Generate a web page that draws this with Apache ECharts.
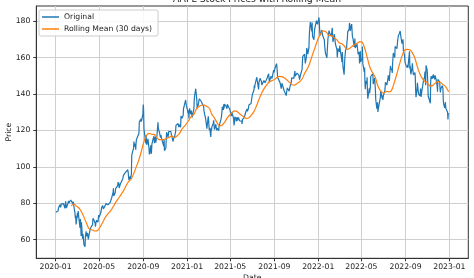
<!DOCTYPE html>
<html>
<head>
<meta charset="utf-8">
<script src="https://cdn.jsdelivr.net/npm/echarts@6/dist/echarts.min.js"></script>
<style>html,body{margin:0;padding:0;background:#fff;}#c{width:474px;height:278px;}</style>
</head>
<body>
<div id="c"></div>
<script>
// Market holidays (x positions of trading days only)
const holidays = ['2020-01-01','2020-01-20','2020-02-17','2020-04-10','2020-05-25','2020-07-03','2020-09-07','2020-11-26','2020-12-25',
  '2021-01-01','2021-01-18','2021-02-15','2021-04-02','2021-05-31','2021-07-05','2021-09-06','2021-11-25','2021-12-24',
  '2022-01-17','2022-02-21','2022-04-15','2022-05-30','2022-06-20','2022-07-04','2022-09-05','2022-11-24','2022-12-26'];

// Daily close, one row per month
const close2020 = [
 [75.1,74.4,75.0,74.6,75.8,77.4,77.6,79.2,78.2,77.8,78.8,79.7,79.1,79.4,79.8,79.6,77.2,79.4,81.1,81.0,77.4],
 [77.2,79.7,80.4,81.3,80.0,80.4,79.9,81.8,81.2,81.2,79.8,80.9,80.1,78.3,74.5,72.0,73.2,68.4,68.3],
 [74.7,72.3,75.7,73.2,72.3,66.5,71.3,68.9,62.1,69.5,60.6,63.2,61.7,61.2,57.3,56.1,61.7,61.4,64.6,61.9,63.7,63.6],
 [60.2,61.2,60.4,65.6,64.9,66.5,67.0,68.3,71.8,71.1,71.7,70.7,69.2,67.1,69.0,68.8,70.7,70.8,69.6,71.9,73.5],
 [72.3,73.3,74.4,75.2,75.9,77.5,78.8,77.9,76.9,77.4,76.9,78.7,78.3,79.8,79.2,79.7,79.2,79.5,79.6,79.5],
 [80.5,80.8,81.3,80.6,82.9,83.4,86.0,88.2,84.0,84.7,85.8,88.0,87.9,87.9,87.4,89.7,91.6,90.0,91.2,88.4,90.4,91.2],
 [91.0,91.0,93.5,93.2,95.3,95.8,95.9,95.5,97.1,97.7,96.5,96.3,98.4,97.0,97.3,92.8,92.6,94.8,93.3,95.0,96.2,106.3],
 [108.9,109.7,110.1,113.9,111.1,112.7,109.4,113.0,115.0,114.9,114.6,115.6,115.7,118.3,124.4,125.9,124.8,126.5,125.0,124.8,129.0],
 [134.2,131.4,120.9,121.0,112.8,117.3,113.5,112.0,115.4,115.5,112.1,110.3,106.8,110.1,111.8,107.1,108.2,112.3,115.0,114.1,115.8],
 [116.8,113.0,116.5,113.2,115.1,115.0,117.0,124.4,121.1,121.2,120.7,119.0,116.0,117.5,116.9,115.8,115.0,115.1,116.6,111.2,115.3,108.9],
 [108.8,110.4,115.0,119.0,118.7,116.3,116.0,119.5,119.2,119.3,120.3,119.4,118.0,118.6,117.3,113.9,115.2,116.0,116.6,119.1],
 [122.7,123.1,122.9,122.3,123.8,124.4,121.8,123.2,122.4,121.8,127.9,127.8,128.7,126.7,128.2,131.9,131.0,132.0,136.7,134.9,133.7,132.7]
];
const close2021 = [
 [129.4,131.0,126.6,130.9,132.1,129.0,128.8,130.9,128.9,127.1,127.8,132.0,136.9,139.1,142.9,143.2,142.1,137.1,132.0],
 [134.1,135.0,133.9,137.4,136.8,136.9,136.0,135.4,135.1,135.4,133.2,130.8,129.7,129.9,126.0,125.9,125.4,121.0,121.3],
 [127.8,125.1,122.1,120.1,121.4,116.4,121.1,120.0,122.0,121.0,124.0,125.6,124.8,120.5,120.0,123.4,122.5,120.1,120.6,121.2,121.4,119.9,122.2],
 [123.0,125.9,126.2,127.9,130.4,133.0,131.2,134.4,132.0,134.5,134.2,134.8,133.1,133.5,131.9,134.3,134.7,134.4,133.6,133.5,131.5],
 [132.5,127.9,128.1,129.7,130.2,126.9,125.9,122.8,125.0,127.5,126.3,124.9,124.7,127.3,125.4,127.1,126.9,126.9,125.3,124.6],
 [124.3,125.1,123.5,125.9,125.9,126.7,127.1,126.1,127.4,130.5,129.6,130.2,131.8,130.5,132.3,134.0,133.7,133.4,133.1,134.8,136.3,137.0],
 [137.3,140.0,142.0,144.6,143.2,145.1,144.5,145.6,149.2,148.5,146.4,142.5,146.2,145.4,146.8,148.6,149.0,146.8,145.0,145.6,145.9],
 [145.5,147.4,147.0,147.1,146.1,146.1,145.6,145.9,148.9,149.1,151.1,150.2,146.4,146.7,148.2,149.7,149.6,148.4,147.5,148.6,153.1,151.8],
 [152.5,153.7,154.3,156.7,155.1,154.1,149.0,149.6,148.1,149.0,148.8,146.1,142.9,143.4,145.9,146.8,146.9,145.4,141.9,142.8,141.5],
 [142.7,139.1,141.1,142.0,143.3,142.9,142.8,141.5,140.9,143.8,144.8,146.6,148.8,149.3,149.5,148.7,148.6,149.3,148.9,152.6,149.8],
 [149.0,150.0,151.5,151.0,151.3,150.4,150.8,147.9,147.9,150.0,150.0,151.0,153.5,157.9,160.6,161.0,161.4,161.9,156.8,160.2,165.3],
 [164.8,163.8,161.8,165.3,171.2,175.1,174.6,179.5,175.7,174.3,179.3,172.3,171.1,169.8,173.0,175.6,176.3,180.3,179.3,179.4,178.2,177.6]
];
const close2022 = [
 [182.0,179.7,174.9,172.0,172.2,172.2,175.1,175.5,172.2,173.1,169.8,166.2,164.5,162.4,161.6,159.8,159.7,159.2,170.3,174.8],
 [174.6,175.8,172.9,172.4,171.7,174.8,176.3,172.1,168.6,168.9,172.8,172.6,168.9,167.3,164.3,160.1,162.7,164.9,165.1],
 [163.2,166.6,166.2,163.2,159.3,157.4,163.0,158.5,154.7,150.6,155.1,159.6,160.6,164.0,165.4,168.8,170.2,174.1,174.7,175.6,179.0,177.8,174.6],
 [174.3,178.4,175.1,171.8,172.1,170.1,165.8,167.7,170.4,165.3,165.1,167.4,167.2,166.4,161.8,162.9,156.8,156.6,163.6,157.7],
 [158.0,159.5,166.0,156.8,157.3,152.1,154.5,146.5,142.6,147.1,145.5,149.2,140.8,137.4,137.6,143.1,140.4,140.5,143.8,149.6,148.8],
 [148.7,151.2,145.4,146.1,148.7,148.0,142.6,137.1,131.9,132.8,135.4,130.1,131.6,135.9,135.4,138.3,141.7,141.7,137.4,139.2,136.7],
 [138.9,141.6,142.9,146.4,147.0,144.9,145.9,145.5,148.5,150.2,147.1,151.0,153.0,155.4,154.1,153.0,151.6,156.8,157.4,162.5],
 [161.5,160.0,166.1,165.8,165.4,164.9,164.9,169.2,168.5,172.1,173.2,173.0,174.6,174.2,171.5,167.6,167.2,167.5,170.0,163.6,161.4,158.9,157.2],
 [158.0,155.8,154.5,156.0,154.5,157.4,163.4,153.8,155.3,152.4,150.7,154.5,156.9,153.7,152.7,150.4,150.8,151.8,149.8,142.5,138.2],
 [142.5,146.1,146.4,145.4,140.1,140.4,139.0,138.3,143.0,138.4,142.4,143.8,143.9,143.4,147.3,149.5,152.3,149.4,144.8,155.7,153.3],
 [150.7,145.0,138.9,138.4,138.9,139.5,134.9,146.9,149.7,148.3,150.0,148.8,150.7,151.3,148.0,150.2,151.1,148.1,144.2,141.2,148.0],
 [148.3,147.8,146.6,142.9,140.9,142.7,142.2,144.5,145.5,143.2,136.5,134.5,132.4,132.3,135.5,132.2,131.9,130.0,126.0,129.6,129.9]
];
const closeYears = [2020, 2021, 2022];

// 30-day rolling mean, read every 5th trading day starting at the 30th
const rollingMean = [78.7,79.5,78.4,77.4,75.4,72.4,69.1,66.1,65.3,64.8,
 65.1,67.0,69.5,72.1,74.3,75.8,78.0,80.4,82.4,84.5,
 86.8,89.5,91.9,93.2,96.1,99.7,103.4,108.0,113.3,117.2,
 118.4,117.9,117.8,116.2,114.9,114.9,115.1,115.7,116.2,117.0,
 116.1,117.0,118.4,120.8,123.1,125.3,127.6,128.8,131.8,133.1,
 133.8,133.9,133.2,132.2,128.8,126.9,124.4,122.5,123.0,124.7,
 126.9,128.6,130.0,130.7,130.2,129.0,127.6,126.6,126.8,128.2,
 130.3,133.4,137.0,140.3,142.8,144.9,146.6,147.2,147.8,149.0,
 149.7,149.5,148.8,147.7,146.4,145.1,144.9,145.8,146.7,148.2,
 151.3,153.9,157.3,161.6,165.4,170.1,172.7,174.6,173.9,172.0,
 172.0,170.9,169.7,168.0,167.6,166.2,164.5,165.0,166.1,167.1,
 167.9,168.7,168.2,164.7,159.5,154.5,151.4,149.0,144.4,141.6,
 140.6,141.4,141.2,142.4,146.5,151.1,156.2,160.8,163.9,164.5,
 164.3,162.6,159.7,154.9,151.0,148.4,146.8,146.2,144.3,144.6,
 145.9,146.8,146.4,145.2,144.2,141.6,141.2];

const xTickDates = ['2020-01-01','2020-05-01','2020-09-01','2021-01-01','2021-05-01','2021-09-01','2022-01-01','2022-05-01','2022-09-01','2023-01-01'];
const yTicks = [60, 80, 100, 120, 140, 160, 180];

const holidaySet = new Set(holidays);
function pad(n){return (n<10?'0':'')+n;}
function tradingDays(y, m) {
  const out = [];
  const nd = new Date(Date.UTC(y, m + 1, 0)).getUTCDate();
  for (let d = 1; d <= nd; d++) {
    const t = Date.UTC(y, m, d);
    const wd = new Date(t).getUTCDay();
    if (wd === 0 || wd === 6) continue;
    if (holidaySet.has(y + '-' + pad(m + 1) + '-' + pad(d))) continue;
    out.push(t);
  }
  return out;
}
const closeByYear = [close2020, close2021, close2022];
const original = [];
closeByYear.forEach((yr, yi) => {
  yr.forEach((vals, m) => {
    const days = tradingDays(closeYears[yi], m);
    vals.forEach((v, i) => { if (i < days.length) original.push([days[i], v]); });
  });
});
const dates = original.map(d => d[0]);
const rmData = rollingMean.map((v, i) => [dates[Math.min(29 + 5 * i, dates.length - 1)], v]);
const xTicks = xTickDates.map(s => Date.parse(s + 'T00:00:00Z'));

const span = dates[dates.length - 1] - dates[0];
const xMin = dates[0] - span * 0.05;
const xMax = dates[dates.length - 1] + span * 0.05;

const FONT = 'DejaVu Sans';
const chart = echarts.init(document.getElementById('c'), null, {renderer: 'canvas'});
chart.setOption({
  animation: false,
  backgroundColor: '#fff',
  title: {
    text: 'AAPL Stock Prices with Rolling Mean',
    left: 252, textAlign: 'center', top: -10,
    textStyle: {fontFamily: FONT, fontSize: 9.3, fontWeight: 'normal', color: '#222'}
  },
  legend: {
    orient: 'vertical', left: 39, top: 10,
    data: ['Original', 'Rolling Mean (30 days)'],
    icon: 'rect', itemWidth: 17, itemHeight: 1.5, itemGap: 2,
    padding: [2, 6, 2, 3],
    backgroundColor: 'rgba(255,255,255,0.85)', borderColor: '#cccccc', borderWidth: 1, borderRadius: 2,
    textStyle: {fontFamily: FONT, fontSize: 7.7, color: '#222', lineHeight: 10}
  },
  grid: {left: 36.3, right: 5.7, top: 6, bottom: 19.7, show: true, borderColor: '#333', borderWidth: 1, outerBoundsMode: 'none', containLabel: false},
  xAxis: {
    type: 'value', min: xMin, max: xMax, scale: true,
    name: 'Date', nameLocation: 'middle', nameGap: 16, nameMoveOverlap: false,
    nameTextStyle: {fontFamily: FONT, fontSize: 7.7, color: '#222'},
    axisLine: {show: true, lineStyle: {color: '#333', width: 1}},
    axisTick: {show: true, length: 3, lineStyle: {color: '#333', width: 1}, customValues: xTicks},
    axisLabel: {customValues: xTicks, margin: 5, fontFamily: FONT, fontSize: 7.7, color: '#222', hideOverlap: false,
      formatter: v => { const d = new Date(v); return d.getUTCFullYear() + '-' + pad(d.getUTCMonth() + 1); }},
    splitLine: {show: true, lineStyle: {color: '#cfcfcf', width: 1}}
  },
  yAxis: {
    type: 'value', min: 49.8, max: 188.3,
    name: 'Price', nameLocation: 'middle', nameGap: 23, nameRotate: 90, nameMoveOverlap: false,
    nameTextStyle: {fontFamily: FONT, fontSize: 7.7, color: '#222'},
    axisLine: {show: true, lineStyle: {color: '#333', width: 1}},
    axisTick: {show: true, length: 3, lineStyle: {color: '#333', width: 1}, customValues: yTicks},
    axisLabel: {customValues: yTicks, margin: 6, fontFamily: FONT, fontSize: 7.7, color: '#222'},
    splitLine: {show: true, lineStyle: {color: '#cfcfcf', width: 1}}
  },
  series: [
    {name: 'Original', type: 'line', data: original, showSymbol: false, symbol: 'none',
     lineStyle: {color: '#1f77b4', width: 1.2}, itemStyle: {color: '#1f77b4'}, z: 2},
    {name: 'Rolling Mean (30 days)', type: 'line', data: rmData, showSymbol: false, symbol: 'none', smooth: 0.3,
     lineStyle: {color: '#ff7f0e', width: 1.2}, itemStyle: {color: '#ff7f0e'}, z: 3}
  ]
});
</script>
</body>
</html>
